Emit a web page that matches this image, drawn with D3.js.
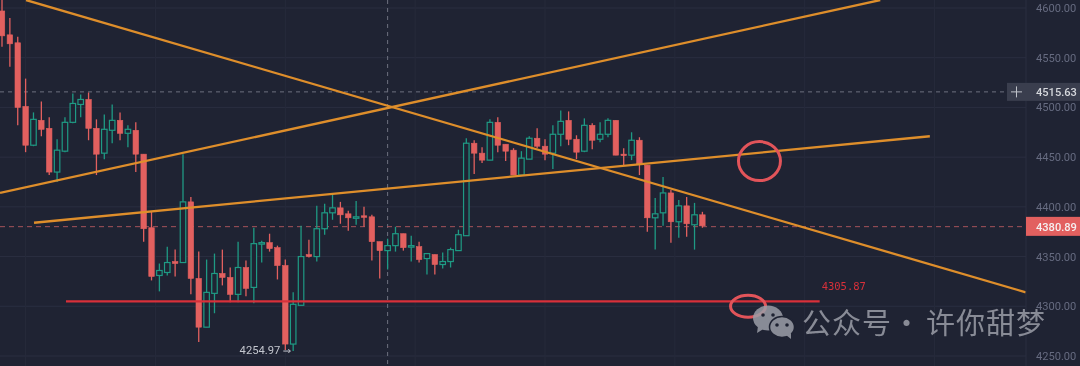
<!DOCTYPE html>
<html>
<head>
<meta charset="utf-8">
<script src="https://cdn.jsdelivr.net/npm/d3@7"></script>
<style>
html, body { margin: 0; padding: 0; background: #1f2333; overflow: hidden; }
svg { display: block; filter: blur(0.35px); }
</style>
</head>
<body>
<div class="canvas"></div>
<script>
// canvas size
const width = 1080;
const height = 366;
const axisX = 1026;

// candles, left to right. price values
const opens = [4597,4573,4565,4501,4462,4487,4479,4435,4456,4485,4503,4508,4479,4454,4477,4487,4474,4477,4453,4379,
  4331,4334,4345,4344,4405,4328,4279,4313,4333,4329,4312,4339,4319,4363,4364,4359,4341,4262,4301,4352,
  4350,4378,4394,4399,4393,4389,4391,4390,4365,4356,4361,4373,4360,4360,4348,4352,4342,4345,4356,4371,
  4464,4454,4447,4485,4463,4457,4432,4448,4469,4461,4454,4473,4487,4468,4456,4482,4468,4473,4487,4453,
  4452,4467,4442,4389,4394,4414,4385,4401,4382,4392];
const highs = [4608,4590,4571,4529,4495,4506,4490,4468,4490,4514,4513,4515,4488,4493,4503,4495,4482,4485,4453,4395,
  4343,4360,4357,4453,4410,4355,4347,4353,4357,4339,4365,4346,4379,4366,4373,4361,4347,4314,4381,4367,
  4401,4403,4412,4405,4396,4406,4400,4392,4365,4368,4380,4373,4371,4365,4353,4352,4354,4359,4377,4469,
  4467,4460,4488,4490,4463,4459,4456,4471,4479,4468,4482,4497,4496,4472,4489,4484,4485,4489,4487,4459,
  4475,4470,4442,4409,4430,4417,4407,4410,4404,4395];
const lows = [4561,4541,4482,4455,4461,4471,4432,4425,4455,4484,4490,4467,4432,4448,4464,4467,4460,4435,4365,4326,
  4315,4331,4330,4344,4312,4264,4279,4293,4321,4304,4304,4310,4303,4344,4355,4327,4256,4255,4301,4349,
  4345,4372,4387,4383,4376,4382,4380,4346,4328,4337,4355,4356,4345,4344,4332,4332,4338,4339,4356,4371,
  4433,4444,4447,4455,4446,4432,4432,4448,4459,4447,4438,4461,4462,4448,4455,4458,4465,4470,4452,4441,
  4447,4432,4375,4357,4381,4364,4369,4370,4357,4379];
const closes = [4572,4564,4500,4462,4488,4478,4435,4457,4485,4504,4508,4479,4453,4478,4487,4474,4478,4453,4378,4330,
  4336,4344,4343,4405,4328,4279,4314,4333,4329,4312,4339,4318,4363,4364,4358,4341,4262,4302,4350,4350,
  4378,4394,4399,4392,4389,4390,4390,4365,4356,4361,4373,4359,4361,4347,4353,4342,4345,4357,4372,4464,
  4454,4447,4485,4462,4456,4432,4449,4469,4461,4453,4473,4486,4468,4455,4482,4467,4473,4487,4452,4452,
  4467,4443,4389,4393,4414,4385,4401,4383,4392,4380.89];

// trend lines drawn on the chart: [bar, price] end points
const fallingLine = [[3.05, 4608], [130.1, 4314]];
const risingLine = [[-0.25, 4414], [111.6, 4608]];
const flatLine = [[4.07, 4384], [117.9, 4471]];
const supportLine = [[8.13, 4305.87], [103.9, 4305.87]];

// hand drawn rings: bar, price
const ringBars = [96.25, 94.8];
const ringPrices = [4446, 4300];

const priceTicks = [4600, 4550, 4500, 4450, 4400, 4350, 4300, 4250];
const gridBars = [3, 19.5, 36, 52.5, 69, 85.5, 102, 118.5];
const lastPrice = 4380.89;
const hoverPrice = 4515.63;
const lowLabel = "4254.97";
const supportLabel = "4305.87";
const watermarkParts = ["公众号", "·", "许你甜梦"];

const upColor = "#1f9a84";
const downColor = "#e2605f";
const trendColor = "#de8e2b";
const redColor = "#d8303a";
const ringColor = "#e2545a";
const axisFont = "Roboto, sans-serif";

const x = d3.scaleLinear().domain([0, 89]).range([2, 702.4]);
const y = d3.scaleLinear().domain([4600, 4250]).range([8, 356]);

const svg = d3.select(".canvas").append("svg")
  .attr("width", width)
  .attr("height", height);

// grid
svg.selectAll(".grid-h").data(priceTicks).join("line")
  .attr("x1", 0).attr("x2", axisX)
  .attr("y1", d => y(d)).attr("y2", d => y(d))
  .attr("stroke", "#2a2e40");
svg.selectAll(".grid-v").data(gridBars).join("line")
  .attr("y1", 0).attr("y2", height)
  .attr("x1", d => x(d)).attr("x2", d => x(d))
  .attr("stroke", "#262a3b");

// crosshair and last price dashes
svg.append("line")
  .attr("x1", x(49)).attr("x2", x(49)).attr("y1", 0).attr("y2", height)
  .attr("stroke", "#6d717f").attr("stroke-dasharray", "4 4");
svg.append("line")
  .attr("x1", 0).attr("x2", 1007).attr("y1", y(hoverPrice)).attr("y2", y(hoverPrice))
  .attr("stroke", "#6d717f").attr("stroke-dasharray", "4 4");
svg.append("line")
  .attr("x1", 0).attr("x2", axisX).attr("y1", y(lastPrice) + 0.8).attr("y2", y(lastPrice) + 0.8)
  .attr("stroke", "#a5525a").attr("stroke-dasharray", "5 4");

// candles
const candles = d3.range(opens.length).map(i => ({
  i, open: opens[i], high: highs[i], low: lows[i], close: closes[i],
  up: closes[i] >= opens[i]
}));

const candle = svg.selectAll(".candle").data(candles).join("g").attr("class", "candle");
candle.append("line")
  .attr("x1", d => x(d.i)).attr("x2", d => x(d.i))
  .attr("y1", d => y(d.high)).attr("y2", d => y(d.low))
  .attr("stroke", d => d.up ? upColor : downColor)
  .attr("stroke-width", 1.3);
candle.append("rect")
  .attr("x", d => x(d.i) - 2.75)
  .attr("width", 5.5)
  .attr("y", d => y(Math.max(d.open, d.close)))
  .attr("height", d => Math.max(1.5, Math.abs(y(d.open) - y(d.close))))
  .attr("fill", d => d.up ? "#1f2333" : downColor)
  .attr("stroke", d => d.up ? upColor : downColor)
  .attr("stroke-width", d => d.up ? 1.2 : 0.6);

// trend lines
const line = d3.line().x(d => x(d[0])).y(d => y(d[1]));
svg.selectAll(".trend").data([fallingLine, risingLine, flatLine]).join("path")
  .attr("class", "trend")
  .attr("d", line)
  .attr("fill", "none")
  .attr("stroke", trendColor)
  .attr("stroke-width", 2.3);

svg.append("path")
  .attr("d", line(supportLine))
  .attr("transform", "translate(0,1)")
  .attr("fill", "none")
  .attr("stroke", redColor)
  .attr("stroke-width", 2.2);

svg.append("text")
  .attr("x", x(supportLine[1][0]) + 2)
  .attr("y", y(4305.87) - 10.5)
  .attr("fill", redColor)
  .style("font", "10.5px 'DejaVu Sans Mono', monospace")
  .text(supportLabel);

// low label
svg.append("text")
  .attr("x", x(36) - 5)
  .attr("y", y(4254.97) + 3)
  .attr("text-anchor", "end")
  .attr("fill", "#c3c6ce")
  .style("font", "11.2px " + axisFont)
  .text(lowLabel);
svg.append("path")
  .attr("d", `M${x(36) - 2},${y(4254.97)}h7m-2,-2l2,2l-2,2`)
  .attr("fill", "none")
  .attr("stroke", "#c3c6ce");

// axis
svg.append("line")
  .attr("x1", axisX).attr("x2", axisX).attr("y1", 0).attr("y2", height)
  .attr("stroke", "#2a2e40");

const axis = d3.axisRight(y)
  .tickValues(priceTicks)
  .tickSize(0)
  .tickPadding(10)
  .tickFormat(d3.format(".2f"));
const gy = svg.append("g")
  .attr("transform", `translate(${axisX},0)`)
  .call(axis);
gy.select(".domain").remove();
gy.selectAll("text")
  .attr("fill", "#666b80")
  .style("font", "11.1px " + axisFont);

// price labels on axis
svg.append("rect")
  .attr("x", 1007).attr("width", 19).attr("y", y(hoverPrice) - 9).attr("height", 18)
  .attr("fill", "#3a3e4e");
svg.append("path")
  .attr("d", `M1011,${y(hoverPrice)}h11M1016.5,${y(hoverPrice) - 5.5}v11`)
  .attr("stroke", "#bfc2c9");
svg.append("rect")
  .attr("x", axisX).attr("width", 54).attr("y", y(hoverPrice) - 9).attr("height", 18)
  .attr("fill", "#3a3e4e");
svg.append("text")
  .attr("x", 1036).attr("y", y(hoverPrice) + 4)
  .attr("fill", "#d5d7dc")
  .style("font", "500 11.1px " + axisFont)
  .text(d3.format(".2f")(hoverPrice));
svg.append("rect")
  .attr("x", axisX).attr("width", 54).attr("y", y(lastPrice) - 9).attr("height", 19)
  .attr("fill", downColor);
svg.append("text")
  .attr("x", 1036).attr("y", y(lastPrice) + 5)
  .attr("fill", "#f5f0f0")
  .style("font", "500 11.1px " + axisFont)
  .text(d3.format(".2f")(lastPrice));

// rings
svg.append("ellipse")
  .attr("cx", x(ringBars[0])).attr("cy", y(ringPrices[0]))
  .attr("rx", 21).attr("ry", 19.5)
  .attr("fill", "none").attr("stroke", ringColor).attr("stroke-width", 3);
svg.append("ellipse")
  .attr("cx", x(ringBars[1])).attr("cy", y(ringPrices[1]))
  .attr("rx", 17.5).attr("ry", 11)
  .attr("fill", "none").attr("stroke", ringColor).attr("stroke-width", 3);

// watermark, wechat bubbles then text
const mark = svg.append("g").attr("fill", "#9c9ea8").attr("opacity", 0.85);
mark.append("ellipse").attr("cx", 768).attr("cy", 318).attr("rx", 15).attr("ry", 12.5);
mark.append("path").attr("d", "M758,326l-1,7l8,-5z");
mark.append("ellipse").attr("cx", 782).attr("cy", 327).attr("rx", 12.5).attr("ry", 10.5)
  .attr("stroke", "#1f2333").attr("stroke-width", 1.5);
mark.append("path").attr("d", "M786,335l5,4l0,-6z");
[[763, 315], [773, 315], [777, 325], [787, 325]].forEach(p => {
  mark.append("circle").attr("cx", p[0]).attr("cy", p[1]).attr("r", 1.8).attr("fill", "#1f2333");
});
const markX = [802, 892, 926];
mark.selectAll("text").data(watermarkParts).join("text")
  .attr("x", (d, i) => markX[i]).attr("y", 334)
  .style("font", "29px 'Noto Sans CJK SC', sans-serif")
  .style("letter-spacing", "1px")
  .text(d => d);
</script>
</body>
</html>
